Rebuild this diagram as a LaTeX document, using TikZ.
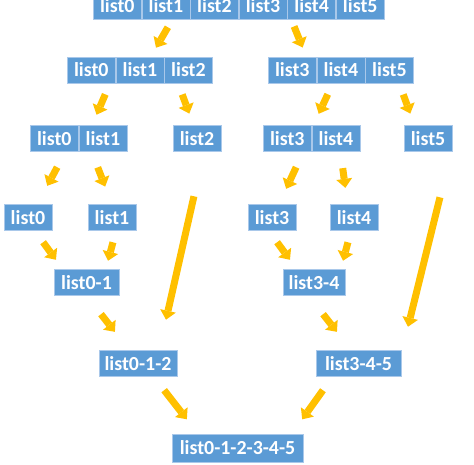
\documentclass[tikz,border=0pt]{standalone}
\usepackage{fontspec}
\setmainfont{Carlito}
\usetikzlibrary{positioning, arrows.meta, calc}
\definecolor{boxblue}{HTML}{5B9BD5}
\definecolor{boxline}{HTML}{A9C8EA}
\definecolor{arrowyellow}{HTML}{FFC000}

\begin{document}
\begin{tikzpicture}[
		x=0.03cm, y=-0.03cm,
		cell/.style={fill=boxblue, draw=boxline, line width=0.5pt, text=white, font=\bfseries\fontsize{17}{20}\selectfont, minimum width=1.44cm, minimum height=0.78cm, inner sep=0pt},
		fat/.style 2 args={draw=arrowyellow, line width=0.21cm, -{Triangle[length=0.27cm, width=0.48cm, line width=0pt]}, shorten <=#1*0.03cm, shorten >=#2*0.03cm}
		]
		\useasboundingbox (0,0) rectangle (474,464);
		\clip (0,0) rectangle (474,464);
		
		% --- Full list ---
		\node[cell, anchor=west] (t0) at (93,6) {list0};
		\node[cell, right=0pt of t0] (t1) {list1};
		\node[cell, right=0pt of t1] (t2) {list2};
		\node[cell, right=0pt of t2] (t3) {list3};
		\node[cell, right=0pt of t3] (t4) {list4};
		\node[cell, right=0pt of t4] (t5) {list5};
		
		% --- First split ---
		\node[cell, anchor=west] (m0) at (67,70) {list0};
		\node[cell, right=0pt of m0] (m1) {list1};
		\node[cell, right=0pt of m1] (m2) {list2};
		\node[cell, anchor=west] (m3) at (268,70) {list3};
		\node[cell, right=0pt of m3] (m4) {list4};
		\node[cell, right=0pt of m4] (m5) {list5};
		
		% --- Second split ---
		\node[cell, anchor=west] (r0) at (30,138.5) {list0};
		\node[cell, right=0pt of r0] (r1) {list1};
		\node[cell] (r2) at (197,138.5) {list2};
		\node[cell, anchor=west] (r3) at (263,138.5) {list3};
		\node[cell, right=0pt of r3] (r4) {list4};
		\node[cell] (r5) at (428,138.5) {list5};
		
		% --- Single lists ---
		\node[cell] (q0) at (28,217.5) {list0};
		\node[cell] (q1) at (112,217.5) {list1};
		\node[cell] (q3) at (272,217.5) {list3};
		\node[cell] (q4) at (354,217.5) {list4};
		
		% --- Merged lists ---
		\node[cell, minimum width=1.95cm] (p0) at (86.5,282.5) {list0-1};
		\node[cell, minimum width=1.86cm] (p1) at (314,282.5) {list3-4};
		\node[cell, minimum width=2.34cm] (s0) at (138,363.5) {list0-1-2};
		\node[cell, minimum width=2.55cm] (s1) at (358.5,363.5) {list3-4-5};
		\node[cell, minimum width=3.93cm, minimum height=0.84cm] (f) at (237.5,448) {list0-1-2-3-4-5};
		
		% --- Split arrows ---
		\draw[fat={9.2}{10.4}] ($(t1.south)+(6.6,0)$) -- ($(m1.north)+(10.9,0)$);
		\draw[fat={7.7}{9.9}] ($(t4.south west)+(3.8,0)$) -- ($(m3.north)+(14.1,0)$);
		\draw[fat={12}{11.4}] ($(m0.south)+(18.7,0)$) -- ($(r1.north west)+(13.5,0)$);
		\draw[fat={11.9}{12.4}] ($(m2.south)+(-10.4,0)$) -- ($(r2.north)+(-3.4,0)$);
		\draw[fat={12.1}{12.6}] ($(m4.south)+(-8,0)$) -- ($(r4.north west)+(1.8,0)$);
		\draw[fat={11.9}{12.4}] ($(m5.south)+(9.6,0)$) -- ($(r5.north)+(-13.4,0)$);
		\draw[fat={17.5}{20.9}] ($(r0.south)+(11.2,0)$) -- ($(q0.north)+(9.3,0)$);
		\draw[fat={16.7}{18.9}] ($(r1.south)+(-11.2,0)$) -- (q1.north);
		\draw[fat={17}{17}] ($(r3.south)+(16,0)$) -- ($(q3.north)+(7,0)$);
		\draw[fat={16.5}{16.5}] ($(r4.south)+(4.6,0)$) -- ($(q4.north)+(-6.4,0)$);
		
		% --- Merge arrows ---
		\draw[fat={45.6}{31.3}] ($(r2.south)+(7,0)$) -- ($(s0.north)+(21.1,0)$);
		\draw[fat={46.9}{24.2}] ($(r5.south)+(23.2,0)$) -- ($(s1.north)+(43.7,0)$);
		\draw[fat={14.2}{11.7}] ($(q0.south)+(6.7,0)$) -- ($(p0.north)+(-23.6,0)$);
		\draw[fat={11.9}{8.8}] ($(q1.south)+(4,0)$) -- ($(p0.north)+(19.3,0)$);
		\draw[fat={14.2}{11.7}] ($(q3.south)+(-3.3,0)$) -- ($(p1.north)+(-17.1,0)$);
		\draw[fat={11.9}{8.8}] ($(q4.south)+(-3,0)$) -- ($(p1.north)+(26.8,0)$);
		\draw[fat={23.4}{23.4}] (p0.south) -- ($(s0.north)+(-8.6,0)$);
		\draw[fat={23.4}{23.4}] ($(p1.south)+(-5.4,0)$) -- ($(s1.north)+(-7.1,0)$);
		\draw[fat={17}{18.3}] ($(s0.south)+(15.7,0)$) -- ($(f.north)+(-39.4,0)$);
		\draw[fat={16.5}{17.7}] ($(s1.south)+(-26,0)$) -- ($(f.north)+(54.4,0)$);
		
	\end{tikzpicture}
\end{document}
